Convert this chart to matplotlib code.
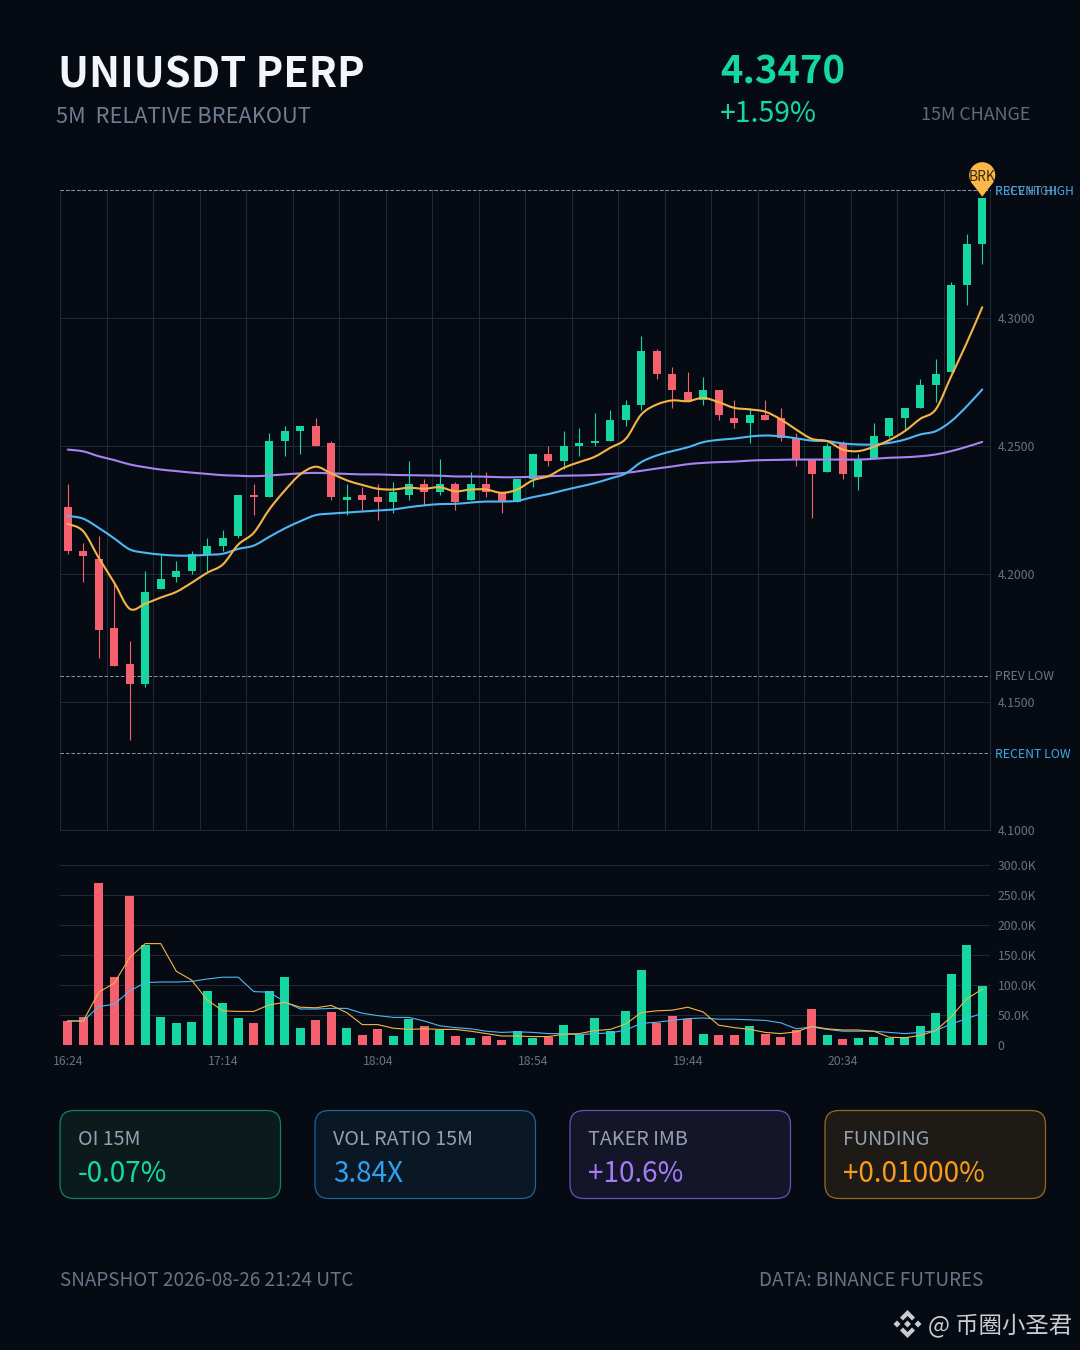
import numpy as np
import matplotlib
matplotlib.use("Agg")
import matplotlib.pyplot as plt
from matplotlib.patches import FancyBboxPatch, Polygon, PathPatch, Circle
from matplotlib.path import Path

plt.rcParams['font.family'] = ['Noto Sans CJK SC', 'DejaVu Sans']

# data

opens = [4.226, 4.209, 4.206, 4.179, 4.165, 4.157, 4.194, 4.199, 4.201, 4.208,
         4.211, 4.215, 4.231, 4.230, 4.252, 4.256, 4.258, 4.251, 4.229, 4.231,
         4.230, 4.228, 4.231, 4.235, 4.232, 4.235, 4.229, 4.235, 4.232, 4.228,
         4.237, 4.247, 4.244, 4.250, 4.251, 4.252, 4.260, 4.266, 4.287, 4.278,
         4.271, 4.268, 4.272, 4.261, 4.259, 4.262, 4.261, 4.253, 4.245, 4.240,
         4.251, 4.238, 4.245, 4.254, 4.261, 4.265, 4.274, 4.279, 4.313, 4.329]
highs = [4.235, 4.212, 4.215, 4.197, 4.174, 4.201, 4.208, 4.205, 4.209, 4.214,
         4.217, 4.231, 4.235, 4.255, 4.258, 4.258, 4.261, 4.252, 4.235, 4.234,
         4.235, 4.236, 4.244, 4.237, 4.245, 4.236, 4.240, 4.240, 4.232, 4.237,
         4.247, 4.250, 4.256, 4.257, 4.263, 4.264, 4.268, 4.293, 4.288, 4.281,
         4.279, 4.277, 4.272, 4.268, 4.265, 4.268, 4.265, 4.255, 4.245, 4.251,
         4.252, 4.247, 4.259, 4.261, 4.265, 4.276, 4.284, 4.314, 4.333, 4.347]
lows = [4.208, 4.197, 4.167, 4.164, 4.135, 4.156, 4.194, 4.197, 4.200, 4.201,
        4.209, 4.214, 4.223, 4.230, 4.246, 4.247, 4.250, 4.229, 4.223, 4.225,
        4.221, 4.224, 4.229, 4.227, 4.231, 4.225, 4.229, 4.230, 4.224, 4.228,
        4.234, 4.242, 4.241, 4.246, 4.250, 4.252, 4.258, 4.264, 4.276, 4.265,
        4.267, 4.266, 4.260, 4.257, 4.251, 4.260, 4.252, 4.242, 4.222, 4.240,
        4.237, 4.233, 4.245, 4.253, 4.256, 4.265, 4.267, 4.279, 4.305, 4.321]
closes = [4.209, 4.207, 4.178, 4.164, 4.157, 4.193, 4.198, 4.201, 4.208, 4.211,
          4.214, 4.231, 4.230, 4.252, 4.256, 4.258, 4.250, 4.230, 4.230, 4.229,
          4.228, 4.232, 4.235, 4.232, 4.235, 4.228, 4.235, 4.232, 4.228, 4.237,
          4.247, 4.244, 4.250, 4.251, 4.252, 4.260, 4.266, 4.287, 4.278, 4.272,
          4.267, 4.272, 4.262, 4.259, 4.262, 4.260, 4.253, 4.245, 4.239, 4.250,
          4.239, 4.245, 4.254, 4.261, 4.265, 4.274, 4.278, 4.313, 4.329, 4.347]

ma_fast = [4.2196, 4.2167, 4.2063, 4.1966, 4.1864, 4.1884, 4.1908, 4.1930, 4.1966, 4.2005,
           4.2037, 4.2115, 4.2161, 4.2252, 4.2326, 4.2389, 4.2419, 4.2393, 4.2366, 4.2348,
           4.2333, 4.2330, 4.2337, 4.2333, 4.2339, 4.2323, 4.2330, 4.2330, 4.2317, 4.2330,
           4.2366, 4.2382, 4.2415, 4.2437, 4.2458, 4.2493, 4.2528, 4.2623, 4.2662, 4.2678,
           4.2675, 4.2688, 4.2671, 4.2649, 4.2643, 4.2634, 4.2604, 4.2564, 4.2528, 4.2519,
           4.2486, 4.2480, 4.2497, 4.2523, 4.2558, 4.2606, 4.2643, 4.2773, 4.2903, 4.3042]
ma_mid = [4.2227, 4.2216, 4.2180, 4.2139, 4.2096, 4.2083, 4.2076, 4.2072, 4.2072, 4.2075,
          4.2079, 4.2098, 4.2111, 4.2145, 4.2178, 4.2206, 4.2230, 4.2236, 4.2240, 4.2244,
          4.2248, 4.2252, 4.2261, 4.2268, 4.2273, 4.2274, 4.2279, 4.2283, 4.2283, 4.2286,
          4.2300, 4.2312, 4.2327, 4.2341, 4.2355, 4.2373, 4.2393, 4.2437, 4.2463, 4.2480,
          4.2495, 4.2515, 4.2524, 4.2529, 4.2537, 4.2541, 4.2538, 4.2530, 4.2521, 4.2519,
          4.2510, 4.2506, 4.2506, 4.2512, 4.2525, 4.2545, 4.2558, 4.2597, 4.2655, 4.2721]
ma_slow = [4.2486, 4.2479, 4.2460, 4.2445, 4.2428, 4.2417, 4.2408, 4.2402, 4.2396, 4.2391,
           4.2386, 4.2384, 4.2382, 4.2385, 4.2389, 4.2393, 4.2395, 4.2393, 4.2391, 4.2389,
           4.2389, 4.2387, 4.2386, 4.2385, 4.2384, 4.2381, 4.2381, 4.2380, 4.2378, 4.2378,
           4.2380, 4.2382, 4.2384, 4.2385, 4.2387, 4.2391, 4.2395, 4.2403, 4.2412, 4.2420,
           4.2429, 4.2434, 4.2437, 4.2439, 4.2443, 4.2445, 4.2446, 4.2447, 4.2447, 4.2447,
           4.2447, 4.2447, 4.2450, 4.2454, 4.2456, 4.2460, 4.2467, 4.2480, 4.2497, 4.2516]

volumes = [40.5, 46, 269.5, 113, 249, 167, 46, 37, 39, 90,
           69.5, 44.5, 36, 90, 114, 29, 41.5, 54.5, 28, 16.5,
           27, 14.5, 43, 32, 25, 14.5, 12, 15.5, 8, 23,
           12, 13, 34, 16, 44.5, 23, 56, 124.5, 36.5, 49,
           44, 18, 16, 17, 32, 18.5, 13.5, 24.5, 60.5, 17,
           9.5, 12, 13.5, 12, 13, 31, 53.5, 118, 167, 99]
vol_fast = [40, 40, 88, 103, 146, 169, 169, 123, 108, 75,
            57, 56, 56, 67, 71, 63, 62, 66, 54, 34,
            34, 28, 26, 27, 26, 26, 23, 19, 15, 15,
            14, 14, 18, 19, 24, 26, 35, 54, 57, 58,
            63, 55, 33, 29, 26, 21, 19, 22, 31, 27,
            25, 25, 23, 13, 12, 16, 24, 47, 77, 93]
vol_slow = [40, 40, 64, 68, 90, 104, 105, 105, 106, 110,
            113, 113, 89, 88, 72, 60, 60, 61, 61, 53,
            49, 46, 46, 40, 32, 29, 27, 23, 21, 22,
            21, 19, 19, 17, 19, 20, 25, 36, 38, 41,
            44, 45, 43, 43, 42, 41, 37, 27, 30, 26,
            23, 23, 23, 21, 19, 21, 24, 35, 44, 53]

price_ticks = [4.10, 4.15, 4.20, 4.25, 4.30]
vol_ticks = [0, 50, 100, 150, 200, 250, 300]
vol_labels = ['0', '50.0K', '100.0K', '150.0K', '200.0K', '250.0K', '300.0K']
time_pos = [0, 10, 20, 30, 40, 50]
time_labels = ['16:24', '17:14', '18:04', '18:54', '19:44', '20:34']

levels = [4.35, 4.35, 4.1602, 4.1301]
level_names = ['PREV HIGH', 'RECENT HIGH', 'PREV LOW', 'RECENT LOW']
level_colors = ['#6b7686', '#3fa9e8', '#6b7686', '#3fa9e8']

card_names = ['OI 15M', 'VOL RATIO 15M', 'TAKER IMB', 'FUNDING']
card_values = ['-0.07%', '3.84X', '+10.6%', '+0.01000%']
card_colors = ['#16d9a0', '#2f9ff0', '#a27cf5', '#f79a1e']
card_fills = ['#0b1b1c', '#0a1826', '#15152a', '#1e1a16']
card_edges = ['#14805f', '#1d6498', '#6a50b0', '#9c6a1f']

BG = '#060b13'
GRID = '#1e2a3a'
UP = '#15d8a0'
DOWN = '#f5606e'
TICK = '#687282'

fig = plt.figure(figsize=(10.8, 13.5), dpi=100, facecolor=BG)


def px_axes(left, top, right, bottom):
    return fig.add_axes([left / 1080, 1 - bottom / 1350, (right - left) / 1080, (bottom - top) / 1350])


def smooth_line(ax, xs, ys, color, lw):
    # catmull-rom through the read values
    xs = np.array(xs, float)
    ys = np.array(ys, float)
    verts = [(xs[0], ys[0])]
    codes = [Path.MOVETO]
    for i in range(len(xs) - 1):
        a = max(i - 1, 0)
        b = min(i + 2, len(xs) - 1)
        verts.append((xs[i] + (xs[i + 1] - xs[a]) / 6, ys[i] + (ys[i + 1] - ys[a]) / 6))
        verts.append((xs[i + 1] - (xs[b] - xs[i]) / 6, ys[i + 1] - (ys[b] - ys[i]) / 6))
        verts.append((xs[i + 1], ys[i + 1]))
        codes += [Path.CURVE4] * 3
    ax.add_patch(PathPatch(Path(verts, codes), fill=False, edgecolor=color, lw=lw, zorder=4, capstyle='round'))


def style_axes(ax):
    ax.set_facecolor(BG)
    ax.set_xlim(-0.5, 59.5)
    for s in ax.spines.values():
        s.set_visible(False)
    ax.tick_params(axis='both', which='both', length=0, colors=TICK, labelsize=8.8)
    ax.yaxis.tick_right()
    ax.set_axisbelow(True)


idx = np.arange(len(opens))
opens = np.array(opens)
closes = np.array(closes)
colors = [UP if c >= o else DOWN for o, c in zip(opens, closes)]

# price panel
ax = px_axes(60, 190, 990, 830)
style_axes(ax)
ax.set_ylim(4.10, 4.35)
ax.set_yticks(price_ticks)
ax.set_yticklabels(['%.4f' % p for p in price_ticks])
ax.set_xticks([])
ax.set_xticks(np.arange(-0.5, 60, 3), minor=True)
ax.tick_params(axis='y', pad=5.5)
ax.grid(True, axis='y', which='major', color=GRID, lw=0.75)
ax.grid(True, axis='x', which='minor', color=GRID, lw=0.75)
for side in ['left', 'right', 'bottom']:
    ax.spines[side].set_visible(True)
    ax.spines[side].set_color(GRID)
    ax.spines[side].set_linewidth(0.75)

ax.vlines(idx, lows, highs, colors=colors, lw=0.8, zorder=2)
ax.bar(idx, np.abs(closes - opens), bottom=np.minimum(opens, closes), width=0.52, color=colors, zorder=3)

smooth_line(ax, idx, ma_slow, '#a884f3', 1.5)
smooth_line(ax, idx, ma_mid, '#4db8f5', 1.5)
smooth_line(ax, idx, ma_fast, '#f7b445', 1.5)

for lv, name, col in zip(levels, level_names, level_colors):
    ax.axhline(lv, color='#8a94a6', lw=0.72, ls=(0, (3.5, 2)), zorder=5, clip_on=False)
    ax.annotate(name, (1, lv), xycoords=ax.get_yaxis_transform(), xytext=(3.8, -0.8),
                textcoords='offset points', color=col, fontsize=8.8, va='center', ha='left',
                annotation_clip=False)

# volume panel
vax = px_axes(60, 865, 990, 1045)
style_axes(vax)
vax.set_ylim(0, 300)
vax.set_yticks(vol_ticks)
vax.set_yticklabels(vol_labels)
vax.set_xticks(time_pos)
vax.set_xticklabels(time_labels)
vax.tick_params(axis='y', pad=5.5)
vax.tick_params(axis='x', pad=7)
vax.grid(True, axis='y', color=GRID, lw=0.75)
vax.bar(idx, volumes, width=0.56, color=colors, zorder=3)
vax.plot(idx, vol_slow, color='#4db8f5', lw=0.8, zorder=4)
vax.plot(idx, vol_fast, color='#f7b445', lw=0.8, zorder=4)

# page overlay in pixels, text and cards
page = fig.add_axes([0, 0, 1, 1], zorder=10)
page.set_xlim(0, 1080)
page.set_ylim(1350, 0)
page.axis('off')
page.patch.set_alpha(0)

page.text(58, 87, 'UNIUSDT PERP', color='#f2f5f9', fontsize=29.9, fontweight='bold', va='baseline')
page.text(56, 123, '5M  RELATIVE BREAKOUT', color='#6f7d90', fontsize=15.7, va='baseline')
page.text(720, 84, '4.3470', color=UP, fontsize=27.5, fontweight='bold', va='baseline')
page.text(720, 122.5, '+1.59%', color=UP, fontsize=20.4, va='baseline')
page.text(1030, 120, '15M CHANGE', color='#5f6b7b', fontsize=12.9, va='baseline', ha='right')

# breakout pin above the last high
tip = ax.transData.transform((idx[-1], highs[-1]))
tx, ty = tip[0], 1350 - tip[1] - 1
page.add_patch(Circle((tx, ty - 21.5), 13, color='#fbb848', lw=0))
page.add_patch(Polygon([(tx - 11.5, ty - 15), (tx + 11.5, ty - 15), (tx, ty)], color='#fbb848', lw=0))
page.text(tx, ty - 20, 'BRK', color='#3a2a10', fontsize=10, ha='center', va='center')

for i, left in enumerate([60, 315, 570, 825]):
    page.add_patch(FancyBboxPatch((left + 14, 1110.5 + 14), 220.5 - 28, 88 - 28,
                                  boxstyle='round,pad=14,rounding_size=14',
                                  fc=card_fills[i], ec=card_edges[i], lw=0.9))
    page.text(left + 18, 1145, card_names[i], color='#94a0b2', fontsize=14.2, va='baseline')
    page.text(left + 18, 1181.5, card_values[i], color=card_colors[i], fontsize=20.1, va='baseline')

page.text(60, 1286, 'SNAPSHOT 2026-08-26 21:24 UTC', color='#687486', fontsize=13.6, va='baseline')
page.text(983, 1286, 'DATA: BINANCE FUTURES', color='#687486', fontsize=13.6, va='baseline', ha='right')

# watermark logo
lc = '#c9ccd1'
cx, cy = 907.5, 1324
for poly in ([(0, -14), (7.5, -6.5), (4.5, -3.5), (0, -8), (-4.5, -3.5), (-7.5, -6.5)],
             [(0, 14), (7.5, 6.5), (4.5, 3.5), (0, 8), (-4.5, 3.5), (-7.5, 6.5)],
             [(-14, 0), (-10.5, -3.5), (-7, 0), (-10.5, 3.5)],
             [(14, 0), (10.5, -3.5), (7, 0), (10.5, 3.5)],
             [(0, -3.5), (3.5, 0), (0, 3.5), (-3.5, 0)]):
    page.add_patch(Polygon([(cx + a, cy + b) for a, b in poly], color=lc, lw=0))
page.text(928, 1332, '@ 币圈小圣君', color=lc, fontsize=16.8, va='baseline')

fig.savefig('out.png', dpi=100, facecolor=BG)
